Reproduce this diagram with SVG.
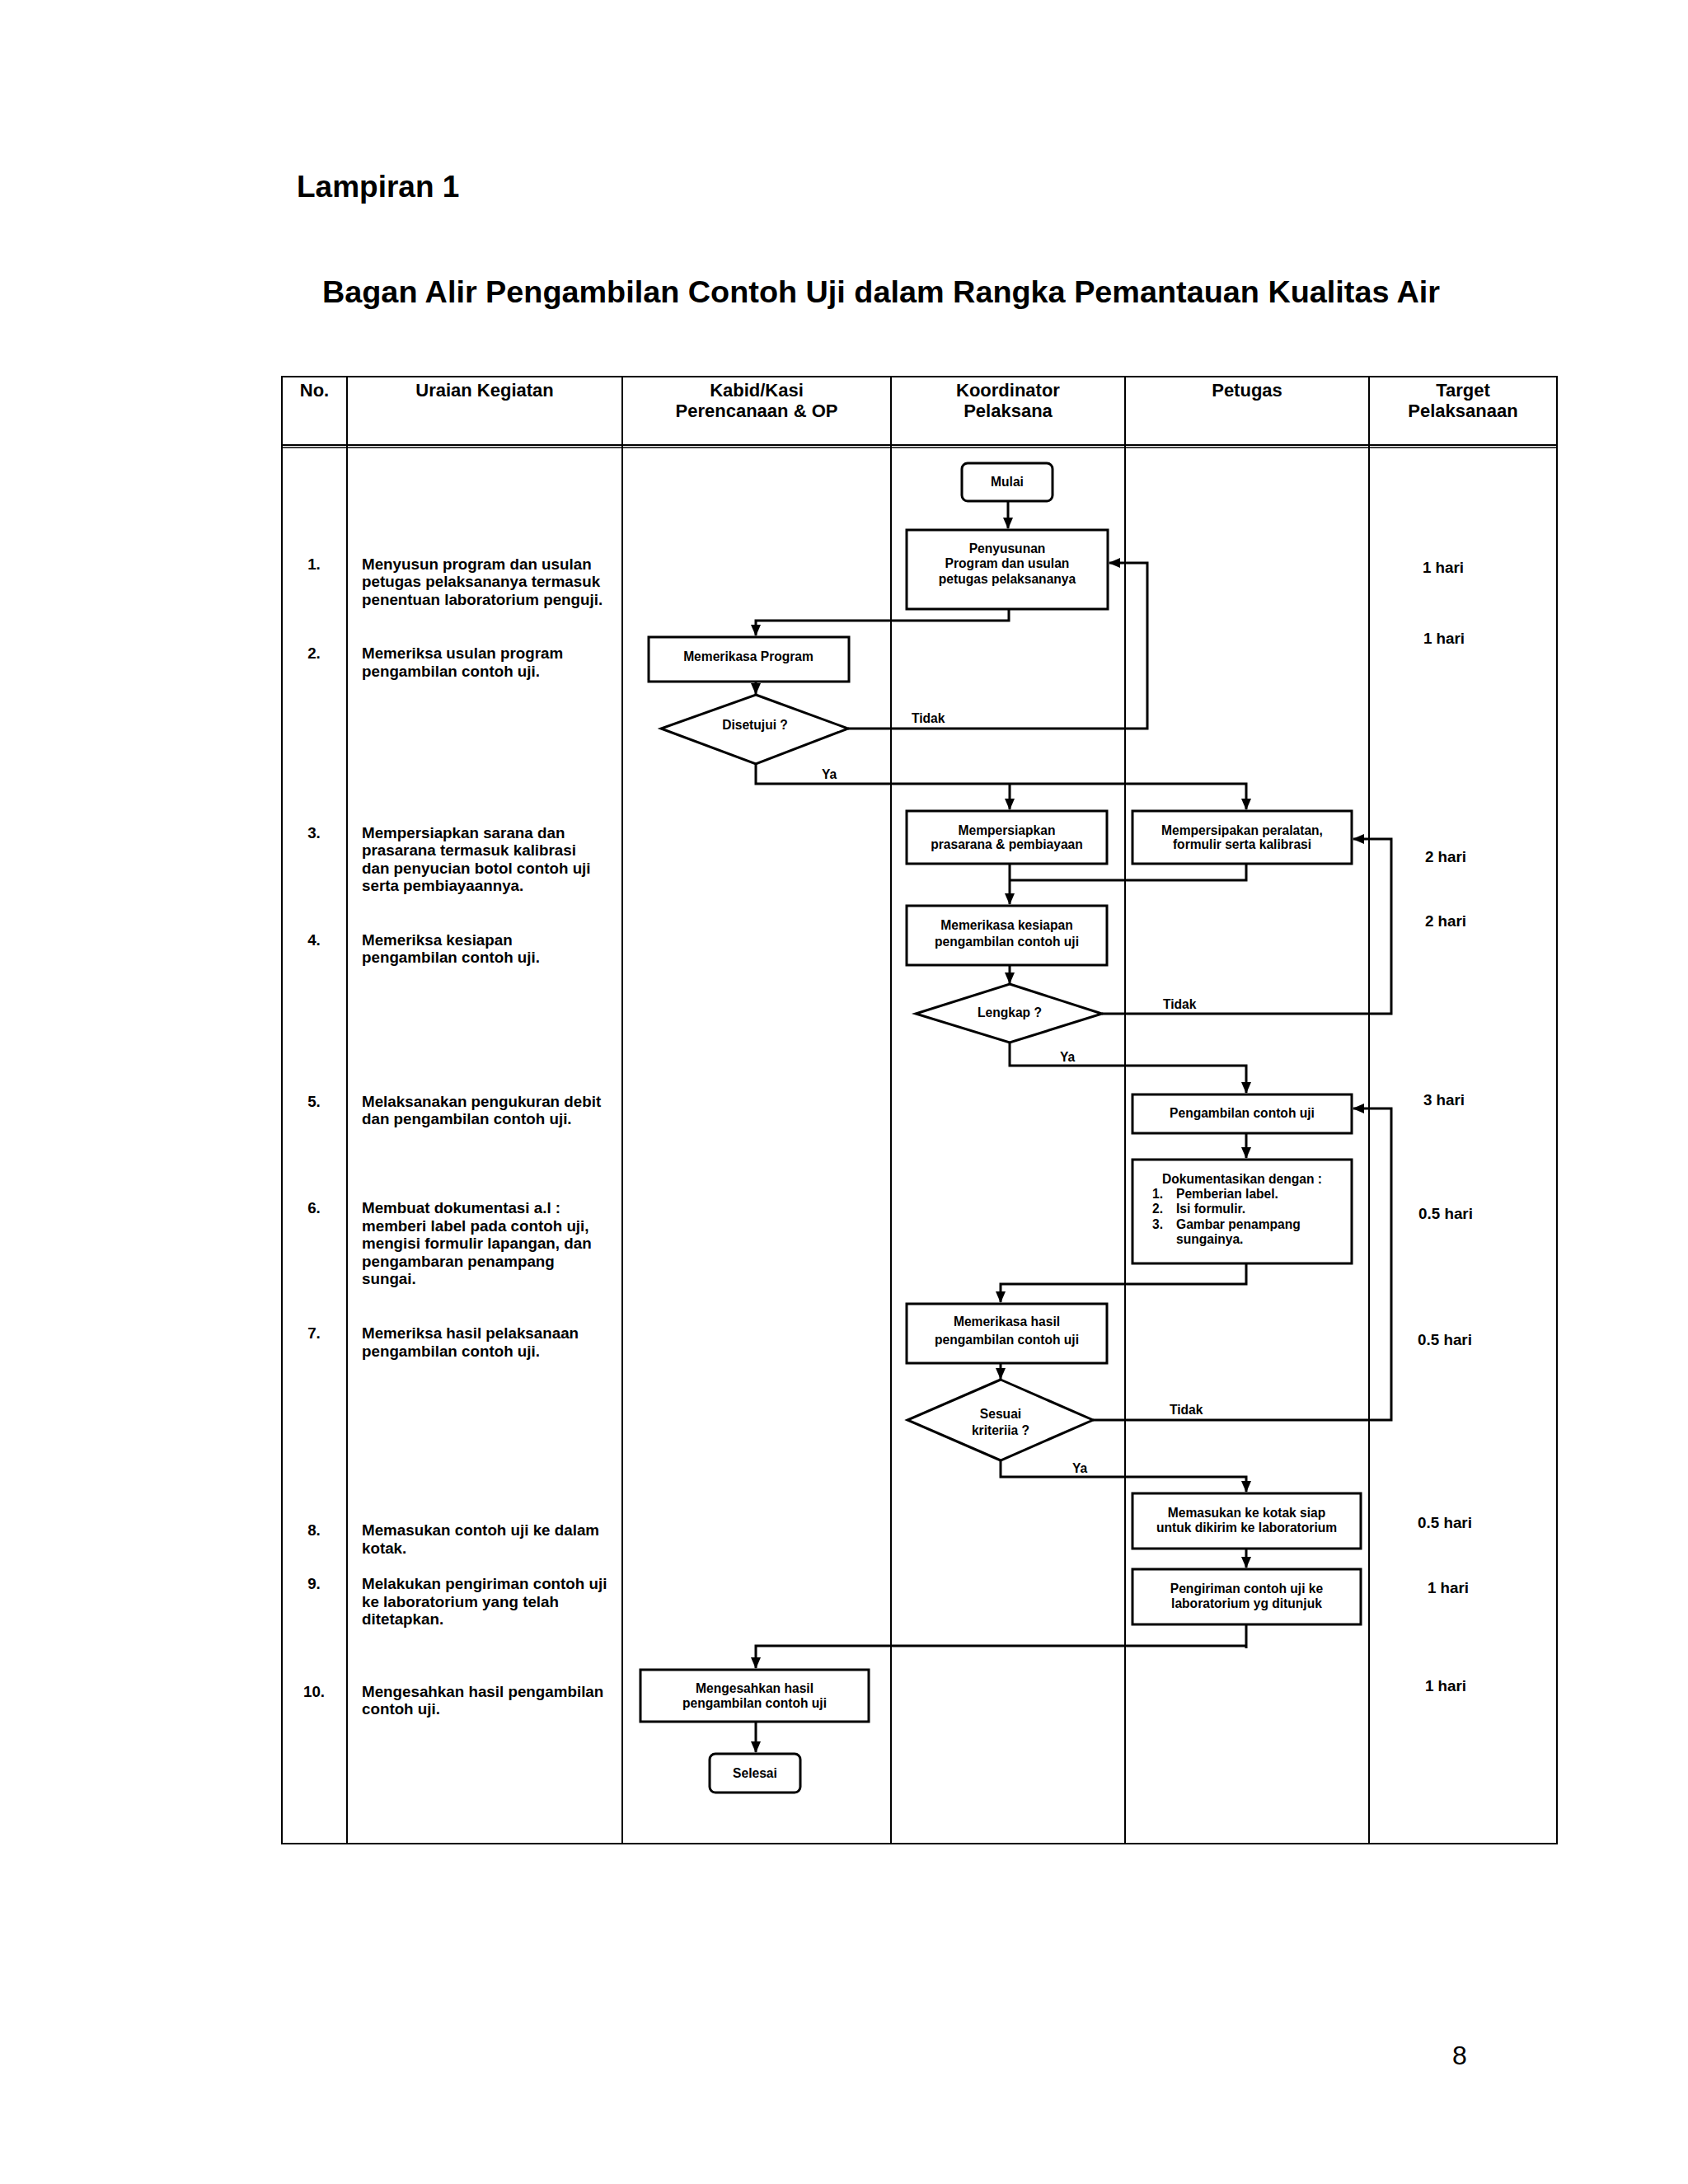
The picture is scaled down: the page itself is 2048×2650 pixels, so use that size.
<svg xmlns="http://www.w3.org/2000/svg" width="2048" height="2650" viewBox="0 0 2048 2650">
<defs>
<style>
text { font-family: "Liberation Sans", Arial, sans-serif; fill:#000; }
.b { font-weight: bold; }
.hd { font-size: 22px; font-weight: bold; text-anchor: middle; }
.ds { font-size: 18.8px; font-weight: bold; }
.num { font-size: 18.8px; font-weight: bold; text-anchor: middle; }
.tg { font-size: 18.8px; font-weight: bold; text-anchor: middle; }
.nt { font-size: 15.6px; font-weight: bold; text-anchor: middle; }
.lb { font-size: 15.6px; font-weight: bold; }
.box { fill: #fff; stroke: #000; stroke-width: 3; }
.grid { stroke: #000; stroke-width: 2; fill: none; }
.conn { fill: none; stroke: #000; stroke-width: 3; }
</style>
<marker id="arr" markerUnits="userSpaceOnUse" markerWidth="14" markerHeight="12" refX="13" refY="6" orient="auto">
<path d="M0,0 L14,6 L0,12 z" fill="#000"/>
</marker>
</defs>
<rect x="0" y="0" width="2048" height="2650" fill="#fff"/>

<g id="page-titles">
<text x="360" y="239" class="b" style="font-size:37px">Lampiran 1</text>
<text x="1069" y="367" class="b" style="font-size:37.8px" text-anchor="middle">Bagan Alir Pengambilan Contoh Uji dalam Rangka Pemantauan Kualitas Air</text>
<text x="1771" y="2505" style="font-size:32px" text-anchor="middle">8</text>
</g>

<g id="table">
<rect x="342" y="457" width="1547" height="1780" class="grid"/>
<line x1="421" y1="457" x2="421" y2="2237" class="grid"/>
<line x1="755" y1="457" x2="755" y2="2237" class="grid"/>
<line x1="1081" y1="457" x2="1081" y2="2237" class="grid"/>
<line x1="1365" y1="457" x2="1365" y2="2237" class="grid"/>
<line x1="1661" y1="457" x2="1661" y2="2237" class="grid"/>
<line x1="342" y1="540" x2="1889" y2="540" stroke="#000" stroke-width="1.8"/>
<line x1="342" y1="543" x2="1889" y2="543" stroke="#000" stroke-width="1.5"/>
<text x="381.5" y="481" class="hd">No.</text>
<text x="588" y="481" class="hd">Uraian Kegiatan</text>
<text x="918" y="481" class="hd">Kabid/Kasi</text>
<text x="918" y="506" class="hd">Perencanaan &amp; OP</text>
<text x="1223" y="481" class="hd">Koordinator</text>
<text x="1223" y="506" class="hd">Pelaksana</text>
<text x="1513" y="481" class="hd">Petugas</text>
<text x="1775" y="481" class="hd">Target</text>
<text x="1775" y="506" class="hd">Pelaksanaan</text>
</g>

<g id="activities">
<text x="381" y="690.5" class="num">1.</text>
<text x="439" y="690.5" class="ds">Menyusun program dan usulan<tspan x="439" dy="21.6">petugas pelaksananya termasuk</tspan><tspan x="439" dy="21.6">penentuan laboratorium penguji.</tspan></text>
<text x="381" y="799" class="num">2.</text>
<text x="439" y="799" class="ds">Memeriksa usulan program<tspan x="439" dy="21.6">pengambilan contoh uji.</tspan></text>
<text x="381" y="1016.5" class="num">3.</text>
<text x="439" y="1016.5" class="ds">Mempersiapkan sarana dan<tspan x="439" dy="21.6">prasarana termasuk kalibrasi</tspan><tspan x="439" dy="21.6">dan penyucian botol contoh uji</tspan><tspan x="439" dy="21.6">serta pembiayaannya.</tspan></text>
<text x="381" y="1146.5" class="num">4.</text>
<text x="439" y="1146.5" class="ds">Memeriksa kesiapan<tspan x="439" dy="21.6">pengambilan contoh uji.</tspan></text>
<text x="381" y="1342.5" class="num">5.</text>
<text x="439" y="1342.5" class="ds">Melaksanakan pengukuran debit<tspan x="439" dy="21.2">dan pengambilan contoh uji.</tspan></text>
<text x="381" y="1472" class="num">6.</text>
<text x="439" y="1472" class="ds">Membuat dokumentasi a.l :<tspan x="439" dy="21.6">memberi label pada contoh uji,</tspan><tspan x="439" dy="21.6">mengisi formulir lapangan, dan</tspan><tspan x="439" dy="21.6">pengambaran penampang</tspan><tspan x="439" dy="21.6">sungai.</tspan></text>
<text x="381" y="1623.5" class="num">7.</text>
<text x="439" y="1623.5" class="ds">Memeriksa hasil pelaksanaan<tspan x="439" dy="22">pengambilan contoh uji.</tspan></text>
<text x="381" y="1862.5" class="num">8.</text>
<text x="439" y="1862.5" class="ds">Memasukan contoh uji ke dalam<tspan x="439" dy="22">kotak.</tspan></text>
<text x="381" y="1928" class="num">9.</text>
<text x="439" y="1928" class="ds">Melakukan pengiriman contoh uji<tspan x="439" dy="21.6">ke laboratorium yang telah</tspan><tspan x="439" dy="21.6">ditetapkan.</tspan></text>
<text x="381" y="2058.5" class="num">10.</text>
<text x="439" y="2058.5" class="ds">Mengesahkan hasil pengambilan<tspan x="439" dy="21.6">contoh uji.</tspan></text>
</g>

<g id="targets">
<text x="1751" y="695" class="tg">1 hari</text>
<text x="1752" y="781" class="tg">1 hari</text>
<text x="1754" y="1045.5" class="tg">2 hari</text>
<text x="1754" y="1123.5" class="tg">2 hari</text>
<text x="1752" y="1340.5" class="tg">3 hari</text>
<text x="1754" y="1479" class="tg">0.5 hari</text>
<text x="1753" y="1632" class="tg">0.5 hari</text>
<text x="1753" y="1854" class="tg">0.5 hari</text>
<text x="1757" y="1932.5" class="tg">1 hari</text>
<text x="1754" y="2052" class="tg">1 hari</text>
</g>

<g id="connectors">
<path class="conn" d="M1223,608 V641" marker-end="url(#arr)"/>
<path class="conn" d="M1224,739 V753 H917 V771" marker-end="url(#arr)"/>
<path class="conn" d="M917,827 V842" marker-end="url(#arr)"/>
<path class="conn" d="M1029,884 H1392 V683 H1346" marker-end="url(#arr)"/>
<path class="conn" d="M917,927 V951 H1512 V982" marker-end="url(#arr)"/>
<path class="conn" d="M1225,951 V982" marker-end="url(#arr)"/>
<path class="conn" d="M1512,1048 V1068 H1225"/>
<path class="conn" d="M1225,1048 V1097" marker-end="url(#arr)"/>
<path class="conn" d="M1225,1171 V1193" marker-end="url(#arr)"/>
<path class="conn" d="M1337,1230 H1688 V1018 H1642" marker-end="url(#arr)"/>
<path class="conn" d="M1225,1265 V1293 H1512 V1326" marker-end="url(#arr)"/>
<path class="conn" d="M1512,1375 V1405" marker-end="url(#arr)"/>
<path class="conn" d="M1512,1533 V1558 H1214 V1580" marker-end="url(#arr)"/>
<path class="conn" d="M1214,1654 V1673" marker-end="url(#arr)"/>
<path class="conn" d="M1326,1723 H1688 V1345 H1642" marker-end="url(#arr)"/>
<path class="conn" d="M1214,1772 V1792 H1512 V1810" marker-end="url(#arr)"/>
<path class="conn" d="M1512,1879 V1902" marker-end="url(#arr)"/>
<path class="conn" d="M1512,1971 V2000"/>
<path class="conn" d="M1512,1997 H917 V2024" marker-end="url(#arr)"/>
<path class="conn" d="M917,2089 V2126" marker-end="url(#arr)"/>
<text x="1106" y="876.5" class="lb">Tidak</text>
<text x="997" y="944.5" class="lb">Ya</text>
<text x="1411" y="1223.5" class="lb">Tidak</text>
<text x="1286" y="1287.5" class="lb">Ya</text>
<text x="1419" y="1715.5" class="lb">Tidak</text>
<text x="1301" y="1786.5" class="lb">Ya</text>
</g>

<g id="mulai">
<rect x="1167" y="562" width="110" height="46" rx="7" class="box"/>
<text x="1222" y="589.5" class="nt">Mulai</text>
</g>
<g id="penyusunan">
<rect x="1100" y="643" width="244" height="96" class="box"/>
<text x="1222" y="670.5" class="nt">Penyusunan<tspan x="1222" dy="18.5">Program dan usulan</tspan><tspan x="1222" dy="18.5">petugas pelaksananya</tspan></text>
</g>
<g id="memerikasa-program">
<rect x="787" y="773" width="243" height="54" class="box"/>
<text x="908" y="801.5" class="nt">Memerikasa Program</text>
</g>
<g id="disetujui">
<polygon points="917,843 1029,884 917,927 802,884" class="box"/>
<text x="916" y="884.5" class="nt">Disetujui ?</text>
</g>
<g id="mempersiapkan-prasarana">
<rect x="1100" y="984" width="243" height="64" class="box"/>
<text x="1221.5" y="1012.5" class="nt">Mempersiapkan<tspan x="1221.5" dy="17.5">prasarana &amp; pembiayaan</tspan></text>
</g>
<g id="mempersipakan-peralatan">
<rect x="1374" y="984" width="266" height="64" class="box"/>
<text x="1507" y="1012.5" class="nt">Mempersipakan peralatan,<tspan x="1507" dy="17.5">formulir serta kalibrasi</tspan></text>
</g>
<g id="memerikasa-kesiapan">
<rect x="1100" y="1099" width="243" height="72" class="box"/>
<text x="1221.5" y="1127.5" class="nt">Memerikasa kesiapan<tspan x="1221.5" dy="20.5">pengambilan contoh uji</tspan></text>
</g>
<g id="lengkap">
<polygon points="1225,1194 1337,1230 1225,1265 1111,1230" class="box"/>
<text x="1225" y="1233.5" class="nt">Lengkap ?</text>
</g>
<g id="pengambilan">
<rect x="1374" y="1328" width="266" height="47" class="box"/>
<text x="1507" y="1355.5" class="nt">Pengambilan contoh uji</text>
</g>
<g id="dokumentasikan">
<rect x="1374" y="1407" width="266" height="126" class="box"/>
<text x="1507" y="1435.5" class="nt">Dokumentasikan dengan :</text>
<text class="lb"><tspan x="1398" y="1453.5">1.</tspan><tspan x="1427" y="1453.5">Pemberian label.</tspan><tspan x="1398" y="1472">2.</tspan><tspan x="1427" y="1472">Isi formulir.</tspan><tspan x="1398" y="1491">3.</tspan><tspan x="1427" y="1491">Gambar penampang</tspan><tspan x="1427" y="1509">sungainya.</tspan></text>
</g>
<g id="memerikasa-hasil">
<rect x="1100" y="1582" width="243" height="72" class="box"/>
<text x="1221.5" y="1608.5" class="nt">Memerikasa hasil<tspan x="1221.5" dy="22">pengambilan contoh uji</tspan></text>
</g>
<g id="sesuai">
<polygon points="1214,1674 1326,1723 1214,1772 1101,1723" class="box"/>
<text x="1214" y="1720.5" class="nt">Sesuai<tspan x="1214" dy="20">kriteriia ?</tspan></text>
</g>
<g id="memasukan">
<rect x="1374" y="1812" width="277" height="67" class="box"/>
<text x="1512.5" y="1840.5" class="nt">Memasukan ke kotak siap<tspan x="1512.5" dy="18">untuk dikirim ke laboratorium</tspan></text>
</g>
<g id="pengiriman">
<rect x="1374" y="1904" width="277" height="67" class="box"/>
<text x="1512.5" y="1932.5" class="nt">Pengiriman contoh uji ke<tspan x="1512.5" dy="18">laboratorium yg ditunjuk</tspan></text>
</g>
<g id="mengesahkan">
<rect x="777" y="2026" width="277" height="63" class="box"/>
<text x="915.5" y="2053.5" class="nt">Mengesahkan hasil<tspan x="915.5" dy="18">pengambilan contoh uji</tspan></text>
</g>
<g id="selesai">
<rect x="861" y="2128" width="110" height="47" rx="7" class="box"/>
<text x="916" y="2156.5" class="nt">Selesai</text>
</g>
</svg>
